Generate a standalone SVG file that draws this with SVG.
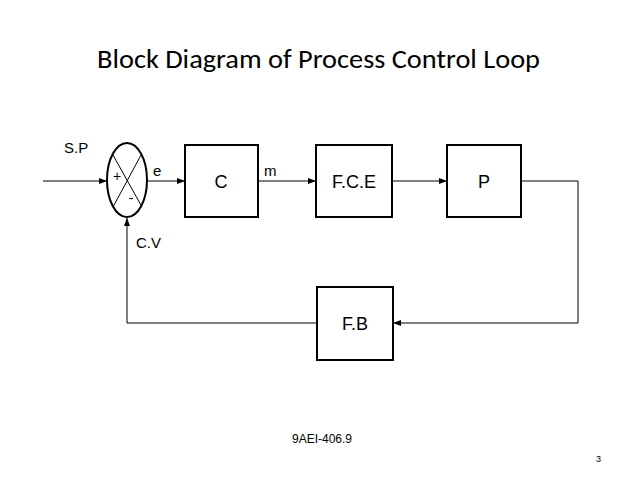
<svg xmlns="http://www.w3.org/2000/svg" width="638" height="479" viewBox="0 0 638 479">
<style>
.b{fill:#fff;stroke:#000;stroke-width:2}
.l{fill:none;stroke:#000;stroke-width:1}
.t{font-family:"Liberation Sans",Arial,sans-serif;fill:#000}
</style>
<defs><marker id="a" markerWidth="8" markerHeight="6" refX="8" refY="3" orient="auto" markerUnits="userSpaceOnUse"><path d="M0,0L8,3L0,6z"/></marker></defs>
<rect width="638" height="479" fill="#fff"/>
<text x="97" y="68" textLength="443" lengthAdjust="spacingAndGlyphs" font-family="Carlito,'Liberation Sans',sans-serif" font-size="26">Block Diagram of Process Control Loop</text>
<g id="conn">
<path class="l" d="M43,181H107" marker-end="url(#a)"/>
<path class="l" d="M147,181H185" marker-end="url(#a)"/>
<path class="l" d="M258,181H316" marker-end="url(#a)"/>
<path class="l" d="M392,181H447" marker-end="url(#a)"/>
<path class="l" d="M521,181H578V323H393" marker-end="url(#a)"/>
<path class="l" d="M317,323H127V218" marker-end="url(#a)"/>
</g>
<g id="sum"><ellipse class="b" cx="127" cy="180" rx="20" ry="37"/>
<path class="l" d="M113,155L142,207M141,155L113,207"/>
<text class="t" x="117" y="181" font-size="14" text-anchor="middle">+</text>
<text class="t" x="131" y="203" font-size="14" text-anchor="middle">-</text></g>
<g id="c"><rect class="b" x="185" y="145" width="73" height="72"/><text class="t" x="221" y="188" font-size="18" text-anchor="middle">C</text></g>
<g id="fce"><rect class="b" x="316" y="145" width="76" height="72"/><text class="t" x="354" y="188" font-size="18" text-anchor="middle">F.C.E</text></g>
<g id="p"><rect class="b" x="447" y="145" width="74" height="72"/><text class="t" x="484" y="188" font-size="18" text-anchor="middle">P</text></g>
<g id="fb"><rect class="b" x="317" y="287" width="76" height="73"/><text class="t" x="355" y="330" font-size="18" text-anchor="middle">F.B</text></g>
<text class="t" x="64" y="153" font-size="15">S.P</text>
<text class="t" x="153" y="176" font-size="15">e</text>
<text class="t" x="264" y="176" font-size="15">m</text>
<text class="t" x="136" y="248" font-size="15">C.V</text>
<text class="t" x="322" y="443" font-size="12" text-anchor="middle">9AEI-406.9</text>
<text class="t" x="596" y="462" font-size="9" fill="#666">3</text>
</svg>
